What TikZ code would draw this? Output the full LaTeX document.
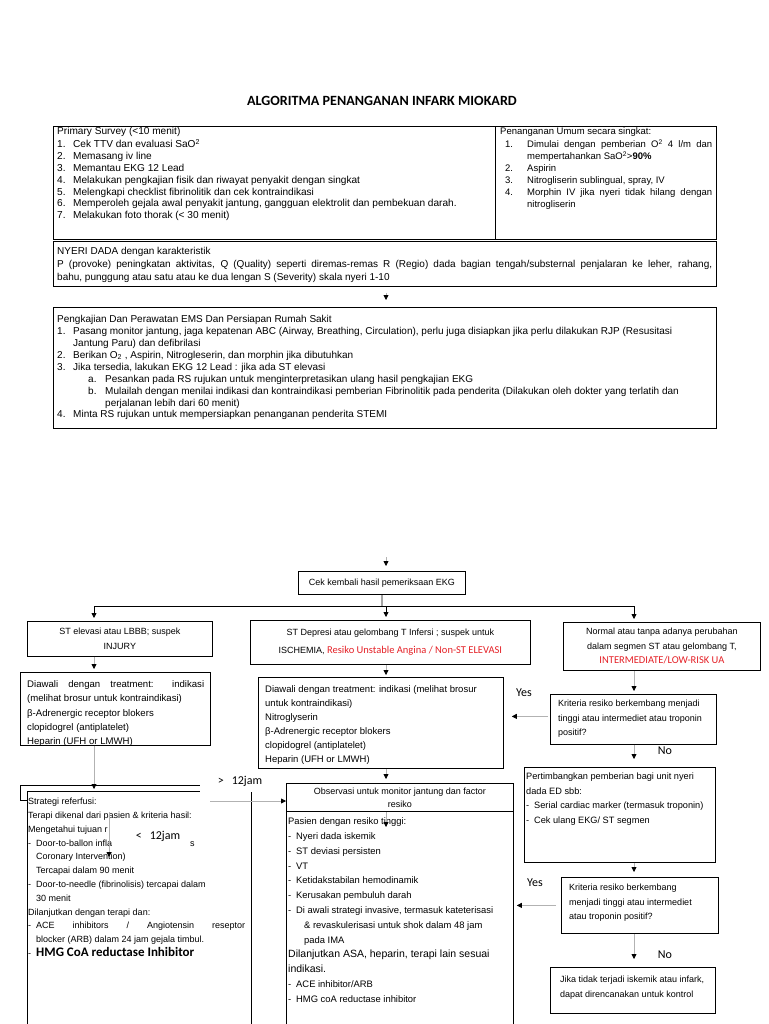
\documentclass[tikz,border=0pt]{standalone}
\usepackage{fontspec}
\setmainfont{Liberation Sans}
\newfontfamily\calfont{Carlito}
\usetikzlibrary{arrows.meta, positioning}
\definecolor{riskred}{RGB}{228,32,38}
\newcommand{\fsz}[2]{\fontsize{#1}{#2}\selectfont}
\newcommand{\itm}[1]{\makebox[16pt][l]{#1}}
\newcommand{\dsh}{\makebox[8pt][l]{-}}

\begin{document}
\begin{tikzpicture}[x=1pt, y=-1pt,
   box/.style  = {draw, line width=0.8pt, inner sep=0pt, anchor=north west},
   txt/.style  = {anchor=north west, inner sep=0pt, align=left},
   tag/.style  = {inner sep=1pt, font=\calfont\fsz{12}{14}},
   link/.style = {draw=gray!60, line width=0.8pt, -{Triangle[color=black, width=5pt, length=5pt]}},
   wire/.style = {draw=black, line width=0.8pt}]

\useasboundingbox (0,0) rectangle (768,1024);

\node[font=\calfont\bfseries\fsz{14.1}{16}] (judul) at (382,101) {ALGORITMA PENANGANAN INFARK MIOKARD};

% kotak atas
\node[box, minimum width=442, minimum height=113] (survey) at (53,126) {};
\node[box, minimum width=221, minimum height=113] (umum) at (495,126) {};
\node[box, minimum width=663, minimum height=45] (nyeri) at (53,241) {};
\node[box, minimum width=663, minimum height=121] (kaji) at (53,307) {};

\node[txt, font=\fsz{10.1}{11.8}] (surveytxt) at (57,126.4) {\strut Primary Survey  (<10 menit)\\
\itm{1.}Cek TTV dan evaluasi SaO\textsuperscript{2}\\
\itm{2.}Memasang iv line\\
\itm{3.}Memantau EKG 12 Lead\\
\itm{4.}Melakukan pengkajian fisik dan riwayat penyakit dengan singkat\\
\itm{5.}Melengkapi checklist fibrinolitik dan cek kontraindikasi\\
\itm{6.}Memperoleh gejala awal penyakit jantung, gangguan elektrolit dan pembekuan darah.\\
\itm{7.}Melakukan foto thorak (< 30 menit)};

\node[txt, font=\fsz{9.5}{12}] (umumtxt) at (500,126.3) {\strut Penanganan Umum secara singkat:\\
\hspace*{5pt}\makebox[22pt][l]{1.}\makebox[185pt][s]{Dimulai dengan pemberian O\textsuperscript{2} 4 l/m dan}\\
\hspace*{27pt}mempertahankan SaO\textsuperscript{2}>\textbf{90\%}\\
\hspace*{5pt}\makebox[22pt][l]{2.}Aspirin\\
\hspace*{5pt}\makebox[22pt][l]{3.}Nitrogliserin sublingual, spray, IV\\
\hspace*{5pt}\makebox[22pt][l]{4.}\makebox[185pt][s]{Morphin IV jika nyeri tidak hilang dengan}\\
\hspace*{27pt}nitrogliserin};

\node[txt, font=\fsz{10}{13}] (nyeritxt) at (57,245.4) {\strut NYERI DADA dengan karakteristik\\
\makebox[655pt][s]{P (provoke) peningkatan aktivitas, Q (Quality) seperti diremas-remas R (Regio) dada bagian tengah/substernal penjalaran ke leher, rahang,}\\
bahu, punggung atau satu  atau ke dua lengan S (Severity) skala nyeri 1-10};

\node[txt, font=\fsz{10}{11.9}] (kajitxt) at (57,314.2) {\strut Pengkajian Dan Perawatan EMS Dan Persiapan Rumah Sakit\\
\itm{1.}Pasang monitor jantung, jaga kepatenan ABC (Airway, Breathing, Circulation), perlu juga disiapkan jika perlu dilakukan RJP (Resusitasi\\
\hspace*{16pt}Jantung Paru) dan defibrilasi\\
\itm{2.}Berikan  O\textsubscript{2} , Aspirin, Nitrogleserin, dan morphin jika dibutuhkan\\
\itm{3.}Jika tersedia, lakukan EKG 12 Lead : jika ada ST  elevasi\\
\hspace*{31pt}\makebox[17pt][l]{a.}Pesankan pada RS rujukan untuk menginterpretasikan ulang hasil pengkajian EKG\\
\hspace*{31pt}\makebox[17pt][l]{b.}Mulailah  dengan menilai indikasi dan kontraindikasi pemberian Fibrinolitik pada penderita (Dilakukan oleh dokter yang terlatih dan\\
\hspace*{48pt}perjalanan lebih dari 60 menit)\\
\itm{4.}Minta RS rujukan untuk mempersiapkan penanganan penderita STEMI};

% cek EKG dan cabang
\node[box, minimum width=167, minimum height=23, font=\fsz{9}{11}] (cek) at (298,571) {Cek kembali hasil pemeriksaan EKG};
\node[box, minimum width=185, minimum height=35, align=center, font=\fsz{9}{15}] (injury) at (27,621) {ST elevasi atau LBBB; suspek\\INJURY};
\node[box, minimum width=280, minimum height=44, align=center, font=\fsz{9}{18}] (ischemia) at (250,620) {ST Depresi atau gelombang T Infersi ; suspek untuk\\ISCHEMIA, {\calfont\fsz{10.5}{18}\color{riskred}Resiko Unstable Angina / Non-ST ELEVASI}};
\node[box, minimum width=197, minimum height=48, align=center, font=\fsz{9}{14.5}] (normal) at (563,622) {Normal atau tanpa adanya perubahan\\dalam segmen ST atau gelombang T,\\{\calfont\fsz{10.5}{14.5}\color{riskred}INTERMEDIATE/LOW-RISK UA}};

% kolom kiri
\node[box, minimum width=190, minimum height=73] (terapiA) at (20,672) {};
\node[txt, font=\fsz{9.6}{14.2}] (terapiAtxt) at (27,677.6) {\strut\makebox[177pt][s]{Diawali dengan treatment: indikasi}\\
(melihat brosur untuk kontraindikasi)\\
β-Adrenergic receptor blokers\\
clopidogrel (antiplatelet)\\
Heparin (UFH or LMWH)};

\draw[wire] (200,785) -- (20,785) -- (20,800) -- (27,800);
\node[box, minimum width=224, minimum height=240] (referfusi) at (27,791) {};
\node[txt, font=\fsz{9}{13.8}] (referfusitxt) at (28,794.8) {\strut Strategi referfusi:\\
Terapi dikenal dari pasien \& kriteria hasil:\\
Mengetahui tujuan r\\
\dsh Door-to-ballon  infla\hspace{78pt}s\\
\hspace*{8pt}Coronary Intervention)\\
\hspace*{8pt}Tercapai dalam 90 menit\\
\dsh Door-to-needle (fibrinolisis) tercapai dalam\\
\hspace*{8pt}30 menit\\
Dilanjutkan dengan terapi dan:\\
\dsh\makebox[209pt][s]{ACE inhibitors / Angiotensin reseptor}\\
\hspace*{8pt}blocker (ARB) dalam 24 jam gejala timbul.\\
\dsh{\calfont\bfseries\fsz{13}{13.8}HMG CoA reductase Inhibitor}};

% kolom tengah
\node[box, minimum width=245, minimum height=91] (terapiB) at (258,677) {};
\node[txt, font=\fsz{9.5}{14}] (terapiBtxt) at (265,682.7) {\strut Diawali dengan treatment: indikasi (melihat brosur\\
untuk kontraindikasi)\\
Nitroglyserin\\
β-Adrenergic receptor blokers\\
clopidogrel (antiplatelet)\\
Heparin (UFH or LMWH)};

\node[box, minimum width=227, minimum height=28, align=center, font=\fsz{9}{13}] (observasi) at (286,783) {Observasi untuk monitor jantung dan factor\\resiko};
\node[box, minimum width=227, minimum height=220] (pasien) at (286,811) {};
\node[txt, font=\fsz{9.4}{14.8}] (pasientxt) at (288,814.1) {\strut Pasien dengan resiko tinggi:\\
\dsh Nyeri dada iskemik\\
\dsh ST deviasi persisten\\
\dsh VT\\
\dsh Ketidakstabilan hemodinamik\\
\dsh Kerusakan pembuluh darah\\
\dsh Di awali strategi invasive, termasuk kateterisasi\\
\hspace*{16pt}\& revaskulerisasi untuk shok dalam 48 jam\\
\hspace*{16pt}pada IMA\\
{\fsz{10.5}{14.8}Dilanjutkan ASA, heparin, terapi lain sesuai}\\
{\fsz{10.5}{14.8}indikasi.}\\
\dsh ACE inhibitor/ARB\\
\dsh HMG coA reductase inhibitor};

% kolom kanan
\node[box, minimum width=166, minimum height=50] (kriteriaA) at (550,694) {};
\node[txt, font=\fsz{9}{14.5}] (kriteriaAtxt) at (558,696.4) {\strut Kriteria resiko berkembang  menjadi\\
tinggi atau intermediet atau troponin\\
positif?};
\node[box, minimum width=191, minimum height=95] (pertimbangan) at (524,767) {};
\node[txt, font=\fsz{9.2}{14.6}] (pertimbangantxt) at (526,769.3) {\strut Pertimbangkan pemberian bagi unit nyeri\\
dada ED sbb:\\
\dsh Serial cardiac marker (termasuk troponin)\\
\dsh Cek ulang EKG/ ST segmen};
\node[box, minimum width=157, minimum height=56] (kriteriaB) at (561,877) {};
\node[txt, font=\fsz{9}{14.5}] (kriteriaBtxt) at (569,880.4) {\strut Kriteria resiko berkembang\\
menjadi tinggi atau intermediet\\
atau troponin positif?};
\node[box, minimum width=165, minimum height=46] (kontrol) at (550,967) {};
\node[txt, font=\fsz{9}{15}] (kontroltxt) at (560,972) {\strut Jika tidak terjadi iskemik atau infark,\\
dapat direncanakan untuk kontrol};

% label
\node[tag, fill=white, minimum width=80, minimum height=22] (lebih) at (240,781) {>\hspace{8pt}12jam};
\node[tag] (kurang) at (158,836) {<\hspace{8pt}12jam};
\node[tag] (yesA) at (524,693) {Yes};
\node[tag] (noA) at (665,751) {No};
\node[tag] (yesB) at (535,883) {Yes};
\node[tag] (noB) at (665,955) {No};

% penghubung
\coordinate (colL) at (94,0);
\coordinate (colM) at (386,0);
\coordinate (colR) at (634,0);
\coordinate (bL) at (94,606);
\coordinate (bM) at (382,606);
\coordinate (bR) at (634,606);
\coordinate (atasCek) at (386,557);
\coordinate (lebihStart) at (210,801);
\coordinate (kurangTop) at (109,812);
\coordinate (kurangTip) at (109,857);
\coordinate (pasienTip) at (386,827);

\draw[link, shorten <=6pt, shorten >=7pt] (nyeri.south -| colM) -- (kaji.north -| colM);
\draw[link, shorten >=5pt] (atasCek) -- (cek.north -| colM);
\draw[wire] (cek.south) -- (bM);
\draw[wire] (bL) -- (bR);
\draw[link, draw=black, shorten >=3pt] (bL) -- (injury.north -| colL);
\draw[link, draw=black, shorten >=3pt] (bM -| colM) -- (ischemia.north -| colM);
\draw[link, draw=black, shorten >=3pt] (bR) -- (normal.north -| colR);

\draw[link, shorten >=3pt] (injury.south -| colL) -- (terapiA.north -| colL);
\draw[link, shorten >=2pt] (terapiA.south -| colL) -- (referfusi.north -| colL);
\draw[link] (lebihStart) -- (lebihStart -| observasi.west);
\draw[link] (kurangTop) -- (kurangTip);

\draw[link, shorten >=2pt] (ischemia.south -| colM) -- (terapiB.north -| colM);
\draw[link, shorten >=4pt] (terapiB.south -| colM) -- (observasi.north -| colM);
\draw[link] (observasi.south -| colM) -- (pasienTip);

\draw[link, shorten >=3pt] (normal.south -| colR) -- (kriteriaA.north -| colR);
\draw[link, shorten <=2pt, shorten >=8pt] ([yshift=3pt]kriteriaA.west) -- ([yshift=3pt]kriteriaA.west -| terapiB.east);
\draw[link, shorten >=8pt] (kriteriaA.south -| colR) -- (pertimbangan.north -| colR);
\draw[link, shorten >=5pt] (pertimbangan.south -| colR) -- (kriteriaB.north -| colR);
\draw[link, shorten <=5pt, shorten >=3pt] (kriteriaB.west) -- (kriteriaB.west -| pasien.east);
\draw[link, shorten >=8pt] (kriteriaB.south -| colR) -- (kontrol.north -| colR);
\end{tikzpicture}
\end{document}
